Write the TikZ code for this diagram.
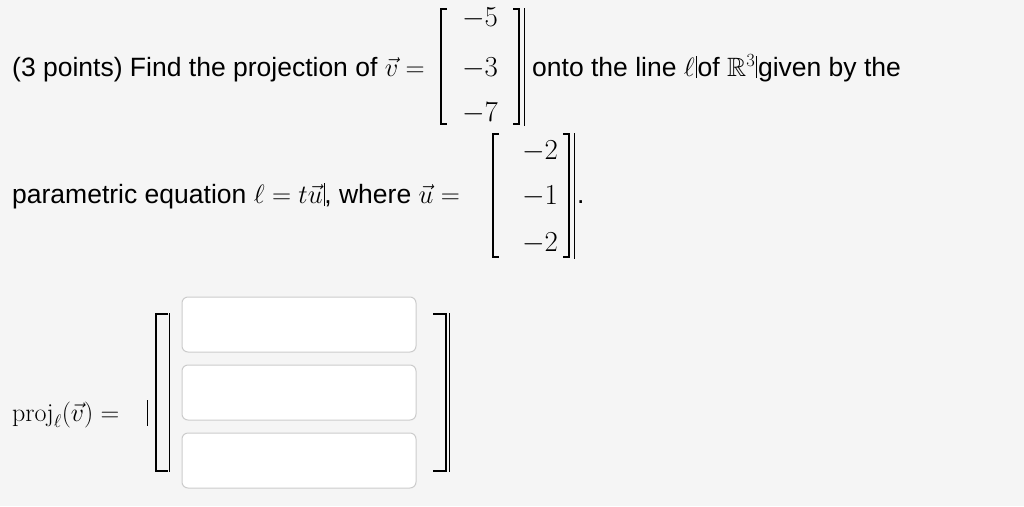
\documentclass[tikz,border=0pt]{standalone}
\usepackage{fix-cm}
\usepackage{amssymb}
\usepackage{fontspec}
\newfontfamily\arial{Liberation Sans}
\begin{document}
\begin{tikzpicture}[x=1pt,y=-1pt,
  txt/.style={anchor=base west,inner sep=0pt,font=\fontsize{26.5}{30}\arial},
  ent/.style={anchor=base,inner sep=0pt,font=\fontsize{29}{32}\selectfont},
  brk/.style={line width=1.6pt},
  bar/.style={line width=1pt},
  ansbox/.style={draw=black!20,fill=white,rounded corners=6pt,line width=1pt}]
\fill[black!4] (0,0) rectangle (1024,506);
\useasboundingbox (0,0) rectangle (1024,506);
% line 1
\node[txt] (t1) at (12,76) {(3 points) Find the projection of $\vec v=$};
\draw[brk] (447,9) -- (441,9) -- (441,124) -- (447,124);
\draw[brk] (513,9) -- (519,9) -- (519,124) -- (513,124);
\draw[bar] (524,8) -- (524,126);
\node[ent] (a1) at (480,27) {$-5$};
\node[ent] (a2) at (480,76) {$-3$};
\node[ent] (a3) at (480,121) {$-7$};
\node[txt] (t2) at (532,76) {onto the line $\ell$\kern1pt\rule[-2pt]{0.8pt}{22pt}\kern1pt of $\mathbb{R}^3$\kern1pt\rule[-2pt]{0.8pt}{22pt}\kern1pt given by the};
% line 2
\node[txt] (t3) at (12,203) {parametric equation $\ell=t\vec u$\kern1pt\rule[-3pt]{0.8pt}{23pt}, where $\vec u=$};
\draw[brk] (499,134) -- (493,134) -- (493,257) -- (499,257);
\draw[brk] (563,134) -- (569,134) -- (569,257) -- (563,257);
\draw[bar] (574,133) -- (574,259);
\node[ent] (b1) at (540,159) {$-2$};
\node[ent] (b2) at (540,204) {$-1$};
\node[ent] (b3) at (540,251) {$-2$};
\node[txt] (dot) at (577,203) {.};
% answer
\node[anchor=base west,inner sep=0pt,font=\fontsize{26}{30}\selectfont] (p) at (12,421) {$\mathrm{proj}_{\ell}(\vec v)\;{=}$};
\draw[bar] (147,400) -- (147,426);
\draw[brk] (168,314) -- (156,314) -- (156,471) -- (168,471);
\draw[bar] (169,313) -- (169,472);
\draw[brk] (433,314) -- (446,314) -- (446,471) -- (433,471);
\draw[bar] (449,313) -- (449,472);
\node[ansbox,minimum width=234pt,minimum height=55pt] (r1) at (299,324.5) {};
\node[ansbox,minimum width=234pt,minimum height=55pt] (r2) at (299,392.5) {};
\node[ansbox,minimum width=234pt,minimum height=55pt] (r3) at (299,460.5) {};
\end{tikzpicture}
\end{document}
